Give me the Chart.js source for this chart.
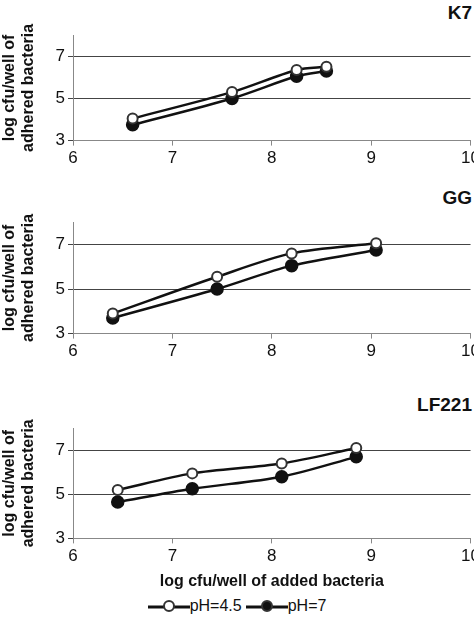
<!DOCTYPE html>
<html>
<head>
<script src="https://cdn.jsdelivr.net/npm/chart.js@4.4.0/dist/chart.umd.min.js"></script>
<style>
body { margin: 0; width: 474px; height: 620px; overflow: hidden; background: #fff; font-family: "Liberation Sans", Arial, sans-serif; position: relative; }
.box { position: absolute; left: 0; width: 483px; }
.ttl { position: absolute; right: 2px; font-weight: bold; font-size: 19px; color: #111; }
#legend { position: absolute; top: 597px; left: 0; width: 474px; text-align: center; font-size: 16px; color: #111; }
#legend span { margin: 0 2px; }
</style>
</head>
<body>
<div class="ttl" style="top:2px">K7</div>
<div class="ttl" style="top:187px">GG</div>
<div class="ttl" style="top:394px">LF221</div>
<div class="box" style="top:22px;height:150px"><canvas id="c1"></canvas></div>
<div class="box" style="top:209px;height:156px"><canvas id="c2"></canvas></div>
<div class="box" style="top:415px;height:180px"><canvas id="c3"></canvas></div>
<div id="legend"></div>
<script>
const k7X = [6.6, 7.6, 8.25, 8.55]
const k7Acid = [4.05, 5.3, 6.35, 6.5]
const k7Neutral = [3.75, 5.0, 6.05, 6.3]
const ggX = [6.4, 7.45, 8.2, 9.05]
const ggAcid = [3.9, 5.55, 6.6, 7.05]
const ggNeutral = [3.7, 5.0, 6.05, 6.75]
const lfX = [6.45, 7.2, 8.1, 8.85]
const lfAcid = [5.2, 5.95, 6.4, 7.1]
const lfNeutral = [4.65, 5.25, 5.8, 6.7]
const seriesNames = ['pH=4.5', 'pH=7']

Chart.defaults.font.family = '"Liberation Sans", Arial, sans-serif'
Chart.defaults.color = '#111'

const pts = (xs, ys) => xs.map((x, i) => ({ x: x, y: ys[i] }))

const makeChart = (id, xs, acid, neutral, last) => {
  const ctx = document.getElementById(id).getContext('2d')
  return new Chart(ctx, {
    type: 'line',
    data: {
      datasets: [
        { label: seriesNames[0], data: pts(xs, acid), borderColor: '#111', borderWidth: 2.5, tension: 0.3,
          pointBackgroundColor: '#fff', pointBorderColor: '#333', pointBorderWidth: 2, pointRadius: 5 },
        { label: seriesNames[1], data: pts(xs, neutral), borderColor: '#111', borderWidth: 2.5, tension: 0.3,
          pointBackgroundColor: '#111', pointBorderColor: '#111', pointRadius: 5.5 }
      ]
    },
    options: {
      responsive: true,
      maintainAspectRatio: false,
      animation: false,
      layout: { padding: { top: 6, right: 0, bottom: 0, left: 0 } },
      plugins: { legend: { display: false }, tooltip: { enabled: false } },
      scales: {
        x: {
          type: 'linear', min: 6, max: 10,
          ticks: { stepSize: 1, font: { size: 17 }, color: '#111' },
          grid: { drawOnChartArea: false, color: '#888', tickLength: 5 },
          border: { color: '#888' },
          title: last ? { display: true, text: 'log cfu/well of added bacteria', font: { size: 16, weight: 'bold' }, color: '#111', padding: { top: 2 } } : { display: false }
        },
        y: {
          min: 3, max: 8,
          ticks: { stepSize: 1, font: { size: 17 }, color: '#111', padding: 3 },
          grid: { color: '#444', tickLength: 5 },
          border: { color: '#888' },
          title: { display: true, text: ['log cfu/well of', 'adhered bacteria'], font: { size: 16, weight: 'bold' }, color: '#111', padding: 0 },
          afterFit: (scale) => { scale.width = 73 }
        }
      }
    }
  })
}

makeChart('c1', k7X, k7Acid, k7Neutral, false)
makeChart('c2', ggX, ggAcid, ggNeutral, false)
makeChart('c3', lfX, lfAcid, lfNeutral, true)

const marker = (fill) => `<svg width="42" height="14" style="vertical-align:-2px"><line x1="0" y1="8" x2="42" y2="8" stroke="#111" stroke-width="3"/><circle cx="21" cy="7" r="5" fill="${fill}" stroke="#333" stroke-width="2"/></svg>`
document.getElementById('legend').innerHTML =
  `<span>${marker('#fff')}${seriesNames[0]}</span><span>${marker('#111')}${seriesNames[1]}</span>`
</script>
</body>
</html>
